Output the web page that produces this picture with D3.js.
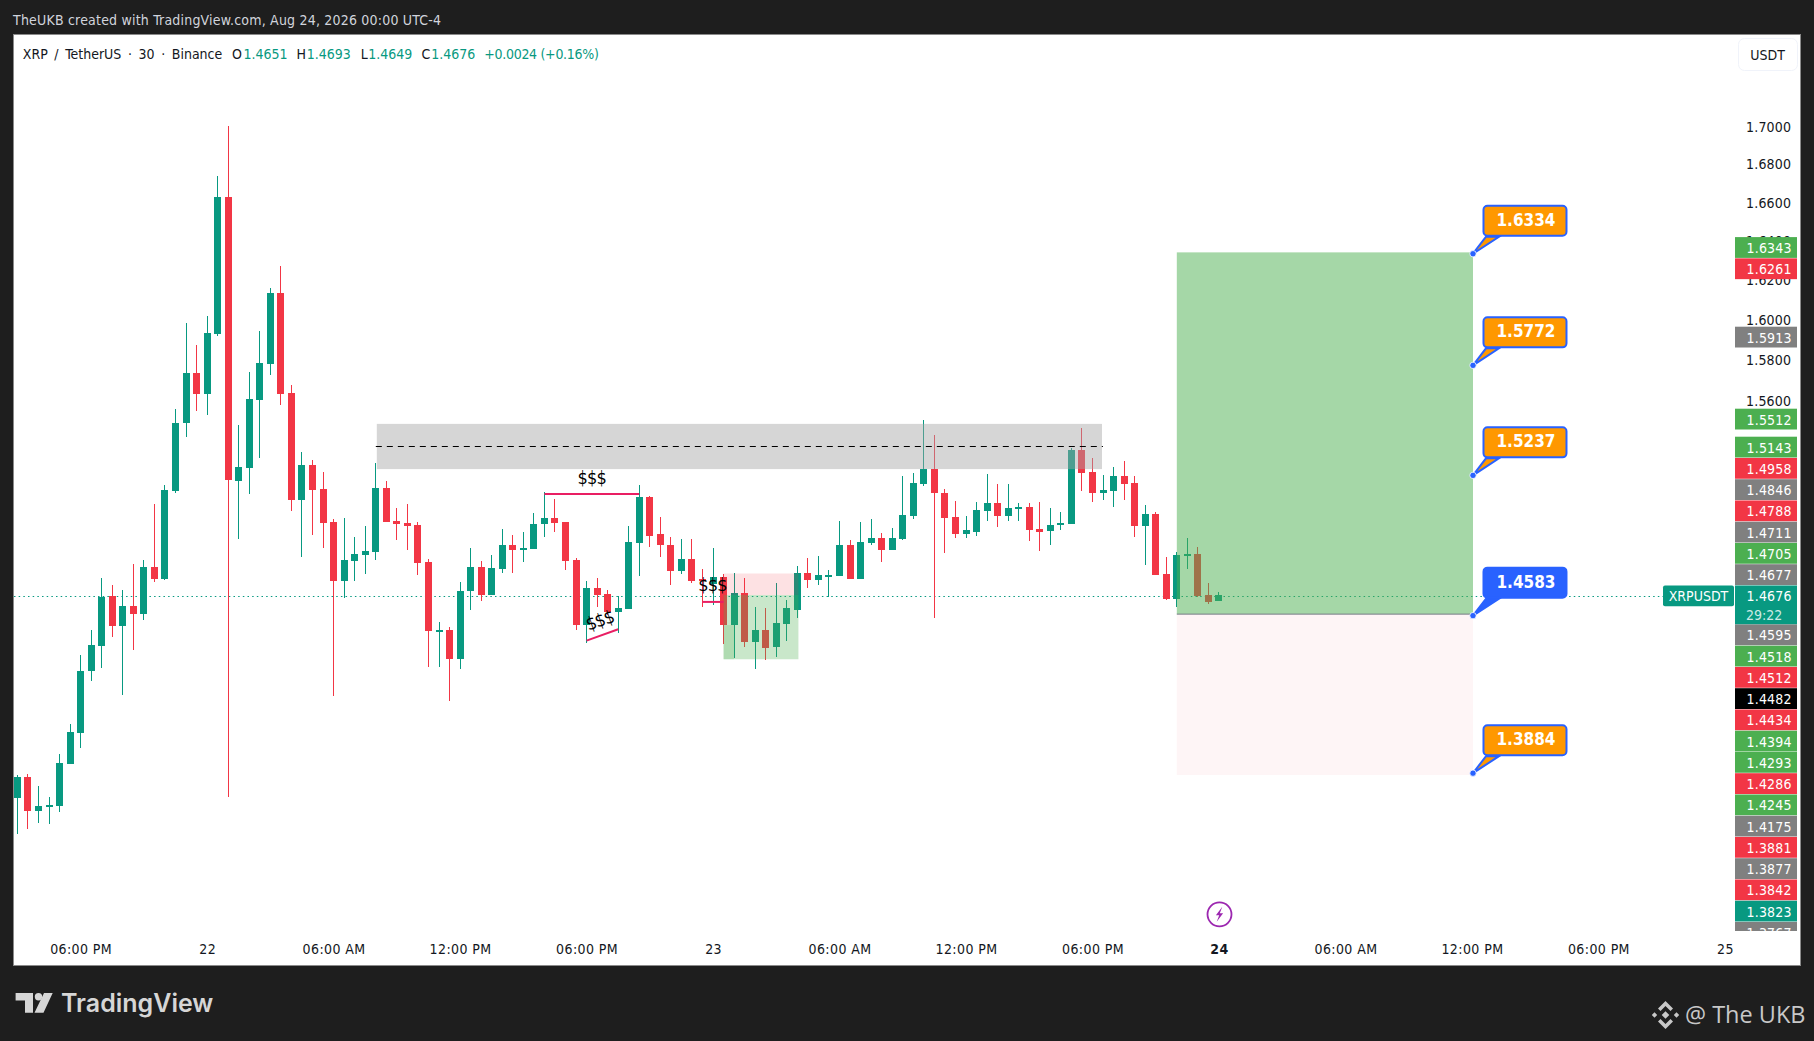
<!DOCTYPE html>
<html>
  <head>
    <meta charset="utf-8">
    <title>XRP / TetherUS 30</title>
    <style>
      html, body { margin: 0; padding: 0; background: #1e1e1e; }
      svg { display: block; }
      text { font-family: "DejaVu Sans Condensed", "DejaVu Sans", sans-serif; }
      .tick text { font-size: 14px; fill: #131722; letter-spacing: 0.2px; }
    </style>
  </head>
  <body>
    <svg width="1814" height="1041"></svg>
    <script src="https://d3js.org/d3.v7.min.js"></script>
    <script>
      // candles, oldest first, 30 min each
      const openPrices = [1.3772,1.3863,1.3716,1.3733,1.3738,1.3920,1.4056,1.4332,1.4445,1.4673,
        1.4536,1.4627,1.4591,1.4807,1.4751,1.5164,1.5491,1.5736,1.5633,1.5930,
        1.6629,1.5212,1.5274,1.5603,1.5781,1.6136,1.5638,1.5122,1.5289,1.5174,
        1.5018,1.4742,1.4835,1.4863,1.4877,1.5179,1.5022,1.5013,1.5004,1.4830,
        1.4513,1.4517,1.4386,1.4696,1.4807,1.4678,1.4798,1.4910,1.4886,1.4891,
        1.5008,1.5036,1.5018,1.4840,1.4540,1.4710,1.4682,1.4600,1.4614,1.4919,
        1.5136,1.4961,1.4910,1.4789,1.4844,1.4751,1.4728,1.4761,1.4540,1.4687,
        1.4463,1.4517,1.4440,1.4545,1.4609,1.4779,1.4747,1.4765,1.4765,1.4910,
        1.4751,1.4919,1.4943,1.4886,1.4938,1.5046,1.5198,1.5269,1.5155,1.5041,
        1.4961,1.4971,1.5070,1.5107,1.5046,1.5079,1.5088,1.4985,1.4975,1.5004,
        1.5008,1.5361,1.5255,1.5155,1.5164,1.5236,1.5203,1.4999,1.5055,1.4775,
        1.4659,1.4858,1.4868,1.4678,1.4651];
      const highPrices = [1.3872,1.3876,1.3824,1.3777,1.3964,1.4096,1.4404,1.4517,1.4756,1.4724,
        1.4701,1.4821,1.4840,1.5103,1.5193,1.5560,1.5985,1.5875,1.6020,1.6739,
        1.7004,1.5482,1.5741,1.5945,1.6161,1.6273,1.5677,1.5351,1.5313,1.5255,
        1.5032,1.5036,1.4947,1.4999,1.5298,1.5212,1.5084,1.5103,1.5018,1.4844,
        1.4554,1.4531,1.4738,1.4896,1.4835,1.4863,1.4985,1.4957,1.4971,1.5060,
        1.5160,1.5126,1.5018,1.4849,1.4742,1.4756,1.4701,1.4673,1.4999,1.5193,
        1.5141,1.5041,1.4947,1.4938,1.4938,1.4798,1.4896,1.4775,1.4779,1.4756,
        1.4623,1.4618,1.4733,1.4655,1.4812,1.4849,1.4858,1.4793,1.5022,1.4933,
        1.5018,1.5032,1.4966,1.4990,1.5236,1.5250,1.5506,1.5433,1.5174,1.5117,
        1.5046,1.5112,1.5245,1.5198,1.5198,1.5107,1.5107,1.5112,1.5084,1.5065,
        1.5370,1.5467,1.5322,1.5241,1.5279,1.5308,1.5236,1.5098,1.5065,1.4854,
        1.4877,1.4943,1.4901,1.4733,1.4693];
      const lowPrices = [1.3618,1.3639,1.3665,1.3660,1.3712,1.3920,1.3990,1.4287,1.4345,1.4485,
        1.4225,1.4427,1.4563,1.4738,1.4747,1.5155,1.5423,1.5550,1.5530,1.5920,
        1.3777,1.4938,1.5150,1.5322,1.5726,1.5579,1.5070,1.4854,1.4957,1.4896,
        1.4220,1.4664,1.4742,1.4775,1.4840,1.5018,1.4933,1.4886,1.4770,1.4350,
        1.4350,1.4198,1.4341,1.4609,1.4650,1.4678,1.4779,1.4779,1.4830,1.4891,
        1.4947,1.4971,1.4793,1.4517,1.4458,1.4623,1.4586,1.4504,1.4614,1.4765,
        1.4901,1.4854,1.4724,1.4775,1.4733,1.4623,1.4632,1.4454,1.4391,1.4440,
        1.4341,1.4382,1.4395,1.4467,1.4572,1.4710,1.4724,1.4669,1.4765,1.4751,
        1.4751,1.4910,1.4830,1.4886,1.4933,1.5032,1.5188,1.4572,1.4872,1.4943,
        1.4943,1.4952,1.5022,1.4994,1.5022,1.5022,1.4929,1.4882,1.4910,1.4980,
        1.5008,1.5164,1.5112,1.5122,1.5088,1.5122,1.4947,1.4816,1.4770,1.4655,
        1.4623,1.4798,1.4669,1.4636,1.4649];
      const closePrices = [1.3863,1.3716,1.3738,1.3742,1.3924,1.4060,1.4332,1.4449,1.4669,1.4536,
        1.4627,1.4591,1.4807,1.4751,1.5169,1.5491,1.5736,1.5633,1.5935,1.6629,
        1.5217,1.5279,1.5608,1.5786,1.6136,1.5633,1.5122,1.5289,1.5169,1.5013,
        1.4742,1.4840,1.4868,1.4882,1.5179,1.5018,1.5008,1.4999,1.4826,1.4513,
        1.4517,1.4386,1.4696,1.4807,1.4678,1.4803,1.4910,1.4886,1.4896,1.5008,
        1.5036,1.5013,1.4835,1.4540,1.4710,1.4678,1.4600,1.4618,1.4924,1.5136,
        1.4952,1.4910,1.4789,1.4844,1.4742,1.4747,1.4761,1.4540,1.4687,1.4463,
        1.4517,1.4436,1.4549,1.4618,1.4779,1.4747,1.4770,1.4770,1.4910,1.4751,
        1.4924,1.4943,1.4886,1.4943,1.5050,1.5203,1.5269,1.5155,1.5036,1.4961,
        1.4980,1.5074,1.5107,1.5046,1.5084,1.5088,1.4980,1.4971,1.5004,1.5013,
        1.5361,1.5250,1.5155,1.5169,1.5236,1.5198,1.4999,1.5055,1.4770,1.4659,
        1.4863,1.4868,1.4673,1.4645,1.4676];

      // the lower ticks sit fully behind the tag stack, so only these show
      const priceTicks = [1.70,1.68,1.66,1.64,1.62,1.60,1.58,1.56];
      const timeTicks = [6,18,30,42,54,66,78,90,102,114,126,138,150,162];
      const timeLabels = ["06:00 PM","22","06:00 AM","12:00 PM","06:00 PM","23","06:00 AM","12:00 PM","06:00 PM","24","06:00 AM","12:00 PM","06:00 PM","25"];
      const lastLinePrice = 1.4672;

      // stacked price tags on the right scale
      const tagValues = ["1.6343","1.6261","1.5913","1.5512","1.5143","1.4958","1.4846","1.4788","1.4711","1.4705","1.4677","1.4676","1.4595","1.4518","1.4512","1.4482","1.4434","1.4394","1.4293","1.4286","1.4245","1.4175","1.3881","1.3877","1.3842","1.3823","1.3767"];
      const tagKinds = ["up","down","flat","up","up","down","flat","down","flat","up","flat","last","flat","up","down","black","down","up","up","down","up","flat","down","flat","down","last","flat"];

      // long position tool
      const calloutLabels = ["1.6334","1.5772","1.5237","1.4583","1.3884"];
      const calloutPrices = [1.6336,1.5774,1.5239,1.4583,1.3880];
      const calloutKinds = ["tp","tp","tp","entry","tp"];
      const positionBars = [110, 138.1];
      const positionTop = 1.6343, positionEntry = 1.4590, positionBottom = 1.3872;

      // resistance zone and the small order block
      const zoneBars = [34.1, 102.9], zonePrices = [1.5487, 1.5269], zoneMid = 1.5378;
      const blockBars = [67, 74.1], blockPrices = [1.4777, 1.4678, 1.4385];

      // $$$ liquidity marks: [bar, price, bar, price]
      const liquidityLines = [[50,1.5150,59,1.5150],[54,1.4469,57,1.4521],[65,1.4646,67,1.4646]];
      const dollarMarks = [[54.5,1.5228,0],[55.25,1.4563,-19],[65.95,1.4725,0]];

      const colors = {up:"#089981", down:"#f23645"};
      const tagColors = {up:"#4caf50", down:"#f23645", flat:"#808080", last:"#089981", black:"#000000"};

      const svg = d3.select("svg");

      const x = d3.scaleLinear().domain([0,162]).range([17.4,1724.9]);
      const y = d3.scaleLog().domain([1.7,1.3649]).range([126.7,826.7]);

      svg.append("text").attr("x",13).attr("y",25).attr("fill","#d1d4dc").style("font-size","14px").style("letter-spacing","0.2px")
        .text("TheUKB created with TradingView.com, Aug 24, 2026 00:00 UTC-4");

      // white pane
      svg.append("rect").attr("x",13.5).attr("y",34.5).attr("width",1787).attr("height",931)
        .attr("fill","#ffffff").attr("stroke","#8a8a8a");

      const defs = svg.append("defs");
      defs.append("clipPath").attr("id","plot").append("rect").attr("x",14).attr("y",35).attr("width",1721).attr("height",896);
      defs.append("clipPath").attr("id","scale").append("rect").attr("x",1660).attr("y",35).attr("width",140).attr("height",896);

      // axes
      const priceAxis = svg.append("g").attr("transform","translate(1746,0)")
        .call(d3.axisRight(y).tickValues(priceTicks).tickFormat(d3.format(".4f")).tickSize(0).tickPadding(0));
      priceAxis.select(".domain").remove();

      const timeAxis = svg.append("g").attr("transform","translate(0,941)")
        .call(d3.axisBottom(x).tickValues(timeTicks).tickFormat((d,i) => timeLabels[i]).tickSize(0).tickPadding(3));
      timeAxis.select(".domain").remove();
      timeAxis.selectAll("text").style("letter-spacing","0.4px");
      timeAxis.selectAll("text").filter(d => d === 114).style("font-weight","bold");

      const plot = svg.append("g").attr("clip-path","url(#plot)");

      // last price line
      plot.append("line").attr("x1",14).attr("x2",1663).attr("y1",Math.round(y(lastLinePrice))+0.5).attr("y2",Math.round(y(lastLinePrice))+0.5)
        .attr("stroke","#089981").attr("stroke-dasharray","1.5 3.17");

      // candles
      const candles = plot.selectAll("g.candle").data(openPrices.map((o,i) => i)).join("g").attr("class","candle")
        .attr("fill", i => closePrices[i] >= openPrices[i] ? colors.up : colors.down);
      candles.append("rect")
        .attr("x", i => Math.round(x(i)-0.5))
        .attr("width",1)
        .attr("y", i => Math.round(y(highPrices[i])))
        .attr("height", i => Math.max(1, Math.round(y(lowPrices[i])) - Math.round(y(highPrices[i]))));
      candles.append("rect")
        .attr("x", i => Math.round(x(i)-0.5)-3)
        .attr("width",7)
        .attr("y", i => Math.round(y(Math.max(openPrices[i],closePrices[i]))))
        .attr("height", i => Math.max(2, Math.round(y(Math.min(openPrices[i],closePrices[i]))) - Math.round(y(Math.max(openPrices[i],closePrices[i])))));

      // grey zone
      plot.append("rect").attr("x",x(zoneBars[0])).attr("width",x(zoneBars[1])-x(zoneBars[0]))
        .attr("y",y(zonePrices[0])).attr("height",y(zonePrices[1])-y(zonePrices[0]))
        .attr("fill","#a3a3a3").attr("fill-opacity",0.45);
      plot.append("line").attr("x1",x(zoneBars[0])-1).attr("x2",x(zoneBars[1])+1)
        .attr("y1",Math.round(y(zoneMid))+0.5).attr("y2",Math.round(y(zoneMid))+0.5)
        .attr("stroke","#000000").attr("stroke-dasharray","6 5");

      // order block
      plot.append("rect").attr("x",x(blockBars[0])).attr("width",x(blockBars[1])-x(blockBars[0]))
        .attr("y",y(blockPrices[0])).attr("height",y(blockPrices[1])-y(blockPrices[0]))
        .attr("fill","#f23645").attr("fill-opacity",0.15);
      plot.append("rect").attr("x",x(blockBars[0])).attr("width",x(blockBars[1])-x(blockBars[0]))
        .attr("y",y(blockPrices[1])).attr("height",y(blockPrices[2])-y(blockPrices[1]))
        .attr("fill","#4caf50").attr("fill-opacity",0.3);
      plot.append("rect").attr("x",x(blockBars[0])).attr("width",x(68)-x(blockBars[0]))
        .attr("y",y(1.4540)).attr("height",y(blockPrices[2])-y(1.4540))
        .attr("fill","#4caf50").attr("fill-opacity",0.2);

      // long position
      plot.append("rect").attr("x",x(positionBars[0])).attr("width",x(positionBars[1])-x(positionBars[0]))
        .attr("y",y(positionTop)).attr("height",y(positionEntry)-y(positionTop))
        .attr("fill","#4caf50").attr("fill-opacity",0.5);
      plot.append("rect").attr("x",x(positionBars[0])).attr("width",x(positionBars[1])-x(positionBars[0]))
        .attr("y",y(positionEntry)).attr("height",y(positionBottom)-y(positionEntry))
        .attr("fill","#f23645").attr("fill-opacity",0.05);
      plot.append("line").attr("x1",x(positionBars[0])).attr("x2",x(positionBars[1]))
        .attr("y1",y(positionEntry)).attr("y2",y(positionEntry)).attr("stroke","#787b86");

      // $$$ lines and text
      plot.selectAll("line.liq").data(liquidityLines).join("line").attr("class","liq")
        .attr("x1",d => x(d[0])).attr("y1",d => y(d[1])).attr("x2",d => x(d[2])).attr("y2",d => y(d[3]))
        .attr("stroke","#e91e63").attr("stroke-width",2);
      plot.selectAll("text.dollar").data(dollarMarks).join("text").attr("class","dollar")
        .attr("text-anchor","middle").attr("dominant-baseline","central")
        .attr("transform",d => `translate(${x(d[0])},${y(d[1])}) rotate(${d[2]})`)
        .attr("fill","#000000").style("font-size","18px").style("letter-spacing","-0.8px").text("$$$");

      // price tags, stacked the way the scale stacks them
      let rowY = {};
      const stacks = [[0,2,247.7],[2,1,337.3],[3,1,419.3],[4,23,447.3]];
      stacks.forEach(([first,count,top]) => {
        let c = top;
        for (let i = first; i < first+count; i++) {
          rowY[i] = c;
          c += tagValues[i] === "1.4676" ? 39 : 21.25;
        }
      });
      const tags = svg.append("g").attr("clip-path","url(#scale)").selectAll("g").data(tagValues).join("g");
      tags.append("rect").attr("x",1735).attr("width",62)
        .attr("y",(d,i) => rowY[i]-10.6)
        .attr("height",d => d === "1.4676" ? 39 : 20.8)
        .attr("fill",(d,i) => tagColors[tagKinds[i]]);
      tags.append("text").attr("x",1746.5).attr("y",(d,i) => rowY[i]+5.2)
        .attr("fill","#ffffff").style("font-size","14px").style("letter-spacing","0.2px").text(d => d);

      const lastRow = rowY[tagValues.indexOf("1.4676")];
      svg.append("text").attr("x",1746).attr("y",lastRow+24).attr("fill","#cdeae5").style("font-size","14px").text("29:22");
      svg.append("rect").attr("x",1663).attr("y",lastRow-10.6).attr("width",71).attr("height",20.8).attr("fill","#089981").attr("rx",2);
      svg.append("text").attr("x",1698.5).attr("y",lastRow+5.2).attr("text-anchor","middle").attr("fill","#ffffff").style("font-size","14px").text("XRPUSDT");

      // callouts of the position tool
      const callouts = svg.selectAll("g.callout").data(calloutLabels).join("g").attr("class","callout")
        .attr("transform",(d,i) => `translate(${x(positionBars[1])},${y(calloutPrices[i])})`);
      const calloutFill = (d,i) => calloutKinds[i] === "entry" ? "#2962ff" : "#ff9800";
      callouts.append("path").attr("d","M0,0L13,-17L26,-17Z").attr("fill",calloutFill)
        .attr("stroke","#2962ff").attr("stroke-width",2);
      callouts.append("rect").attr("x",10.5).attr("y",-48).attr("width",83).attr("height",30).attr("rx",4)
        .attr("fill",calloutFill).attr("stroke","#2962ff").attr("stroke-width",2);
      callouts.append("text").attr("x",53).attr("y",-28).attr("text-anchor","middle").attr("fill","#ffffff")
        .style("font-size","17px").style("font-weight","bold").text(d => d);
      callouts.append("circle").attr("r",3.2).attr("fill","#2962ff").attr("stroke","#ffffff").attr("stroke-width",0.8);

      // legend
      const legend = svg.append("text").attr("y",58.5).style("font-size","14px");
      const legendParts = [["XRP / TetherUS · 30 · Binance",22.8,"#131722",2.6,0],["O",232,"#131722",0,0],["1.4651",243.4,"#089981",0,0],
        ["H",296.4,"#131722",0,0],["1.4693",306.8,"#089981",0,0],["L",360.7,"#131722",0,0],["1.4649",368.2,"#089981",0,0],
        ["C",421.6,"#131722",0,0],["1.4676",431.2,"#089981",0,0],["+0.0024 (+0.16%)",484.3,"#089981",0,-0.3]];
      legend.selectAll("tspan").data(legendParts).join("tspan").attr("x",d => d[1]).attr("fill",d => d[2])
        .style("word-spacing",d => d[3]+"px").style("letter-spacing",d => d[4]+"px").text(d => d[0]);

      // currency button
      svg.append("rect").attr("x",1738.5).attr("y",38.5).attr("width",59).attr("height",32).attr("rx",6)
        .attr("fill","#ffffff").attr("stroke","#f0f3fa");
      svg.append("text").attr("x",1767.6).attr("y",59.5).attr("text-anchor","middle").attr("fill","#131722").style("font-size","14px").text("USDT");

      // lightning badge
      const bolt = svg.append("g").attr("transform","translate(1219.5,914.3)");
      bolt.append("circle").attr("r",12).attr("fill","#ffffff").attr("stroke","#9c27b0").attr("stroke-width",1.8);
      bolt.append("path").attr("d","M2.8,-7.5L-3.6,1L-0.3,1L-2.8,7.5L3.6,-1L0.3,-1Z").attr("fill","#9c27b0");

      // footer
      svg.append("path").attr("fill","#d6d6d6")
        .attr("d","M15.6,993H33V1012.7H25V1000.5H15.6ZM44,993H52.7L43.5,1012.7H34.5Z");
      svg.append("circle").attr("cx",38.5).attr("cy",996.7).attr("r",3.7).attr("fill","#d6d6d6");
      svg.append("text").attr("x",61).attr("y",1012).attr("fill","#d6d6d6")
        .style("font-family","Inter").style("font-size","25px").style("font-weight",600).text("TradingView");

      const binance = svg.append("g").attr("transform","translate(1665.5,1015)").attr("fill","#c8c8c8");
      binance.append("path").attr("d","M0,-3.8L3.8,0L0,3.8L-3.8,0Z"
        +"M-11,-2.7L-8.3,0L-11,2.7L-13.7,0ZM11,-2.7L13.7,0L11,2.7L8.3,0Z"
        +"M0,-14L7.5,-6.5L5,-4L0,-9L-5,-4L-7.5,-6.5ZM0,14L-7.5,6.5L-5,4L0,9L5,4L7.5,6.5Z");
      svg.append("text").attr("x",1685).attr("y",1023).attr("fill","#c8c8c8")
        .style("font-family","'Open Sans'").style("font-size","23.5px").text("@ The UKB");
    </script>
  </body>
</html>
